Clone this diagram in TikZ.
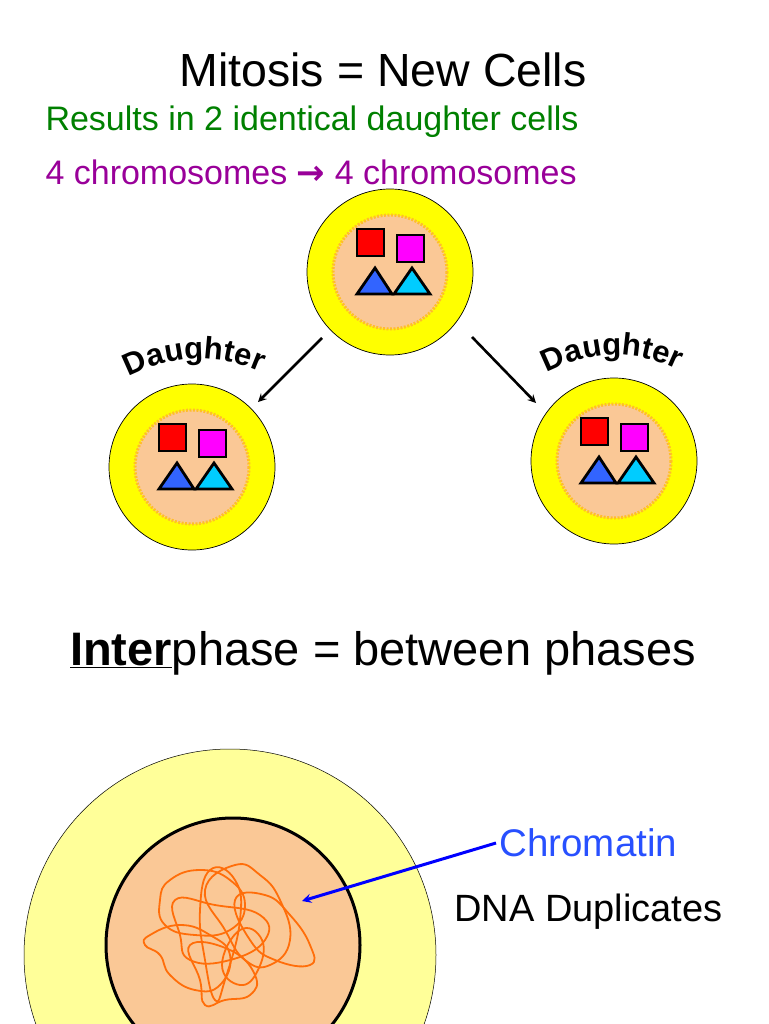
\documentclass[tikz,border=0pt]{standalone}
\usepackage{fontspec}
\setmainfont{Liberation Sans}
\newfontfamily\dejavu{DejaVu Sans}
\usetikzlibrary{decorations.text}
\definecolor{cellY}{RGB}{255,255,0}
\definecolor{nucl}{RGB}{250,200,150}
\definecolor{palY}{RGB}{255,255,153}
\definecolor{chrom}{RGB}{255,110,10}
\definecolor{grn}{RGB}{0,128,0}
\definecolor{purp}{RGB}{153,0,153}
\definecolor{mag}{RGB}{255,0,255}
\definecolor{tblue}{RGB}{50,100,255}
\definecolor{tcyan}{RGB}{0,204,255}
\definecolor{nborder}{RGB}{255,190,40}
\begin{document}
\begin{tikzpicture}[x=1pt,y=-1pt,
  sq/.style={draw=black,line width=2.8pt},
  tri/.style={draw=black,line width=2.8pt,line join=miter},
  arr/.style={line width=2.6pt,-stealth}]
\useasboundingbox (0,0) rectangle (768,1024);
\newcommand{\cellpic}[2]{%
 \begin{scope}[shift={(#1,#2)}]
  \fill[cellY,draw=black,line width=0.7pt] (0,0) circle (83);
  \fill[nucl,draw=nborder,line width=3pt,dash pattern=on 2pt off 1.5pt] (0,0) circle (57);
  \filldraw[fill=red,sq] (-33,-43) rectangle (-6,-16);
  \filldraw[fill=mag,sq] (7,-37) rectangle (34,-10);
  \filldraw[fill=tblue,tri] (-33,22) -- (-15,-4) -- (2,22) -- cycle;
  \filldraw[fill=tcyan,tri] (4,22) -- (22,-4) -- (40,22) -- cycle;
 \end{scope}}
\node[font=\fontsize{46.5}{46.5}\selectfont] (t) at (383,70) {Mitosis = New Cells};
\node[font=\fontsize{34}{34}\selectfont,text=grn,anchor=west] (g) at (42,122) {Results in 2 identical daughter cells};
\node[font=\fontsize{34}{34}\selectfont,text=purp,anchor=west] (p) at (42,172) {4 chromosomes {\dejavu\bfseries →} 4 chromosomes};
\cellpic{390}{272}
\cellpic{192}{467}
\cellpic{614}{461}
\coordinate (a1) at (322,338); \coordinate (b1) at (258,402);
\coordinate (a2) at (472,337); \coordinate (b2) at (536,403);
\draw[arr] (a1) -- (b1);
\draw[arr] (a2) -- (b2);
\path[decorate,decoration={text along path,text align=center,text={|\fontsize{31}{31}\selectfont\bfseries|Daughter}}] (114,386) .. controls (165,352) and (225,350) .. (276,380);
\path[decorate,decoration={text along path,text align=center,text={|\fontsize{31}{31}\selectfont\bfseries|Daughter}}] (533,381) .. controls (584,348) and (642,346) .. (692,378);
\node[font=\fontsize{47}{47}\selectfont] (ip) at (383,653) {\underline{\textbf{Inter}}phase = between phases};
\fill[palY,draw=black,line width=0.5pt] (230,955) circle (206);
\fill[nucl,draw=black,line width=3pt] (233,945) circle (127);
\begin{scope}[draw=chrom,line width=1.8pt]
\draw plot[smooth cycle,tension=0.8] coordinates {(170,880)(200,870)(230,880)(245,905)(230,930)(195,935)(165,925)(160,900)};
\draw plot[smooth cycle,tension=0.8] coordinates {(205,890)(235,865)(260,875)(280,900)(290,940)(270,965)(245,960)(225,930)};
\draw plot[smooth cycle,tension=0.8] coordinates {(150,935)(180,925)(210,935)(230,955)(220,985)(195,990)(170,975)(160,955)(145,945)};
\draw plot[smooth cycle,tension=0.8] coordinates {(235,900)(265,895)(290,915)(310,945)(310,965)(275,960)(250,940)};
\draw plot[smooth cycle,tension=0.8] coordinates {(190,945)(230,950)(255,975)(250,995)(225,1000)(205,1005)(200,980)};
\draw plot[smooth cycle,tension=0.8] coordinates {(175,900)(215,905)(260,915)(265,940)(230,960)(190,960)(180,935)};
\draw plot[smooth cycle,tension=0.8] coordinates {(210,870)(235,880)(240,920)(225,980)(215,1000)(205,960)(200,910)};
\draw plot[smooth cycle,tension=0.8] coordinates {(240,930)(262,940)(258,970)(240,985)(222,965)};
\end{scope}
\node[font=\fontsize{38.5}{38.5}\selectfont,text=tblue!80!blue,anchor=west] (ch) at (496,843) {Chromatin};
\node[font=\fontsize{38}{38}\selectfont,anchor=west] (dna) at (451,912) {DNA Duplicates};
\coordinate (ctip) at (302,901);
\draw[line width=3pt,blue,-stealth] (ch.west) -- (ctip);
\end{tikzpicture}
\end{document}
